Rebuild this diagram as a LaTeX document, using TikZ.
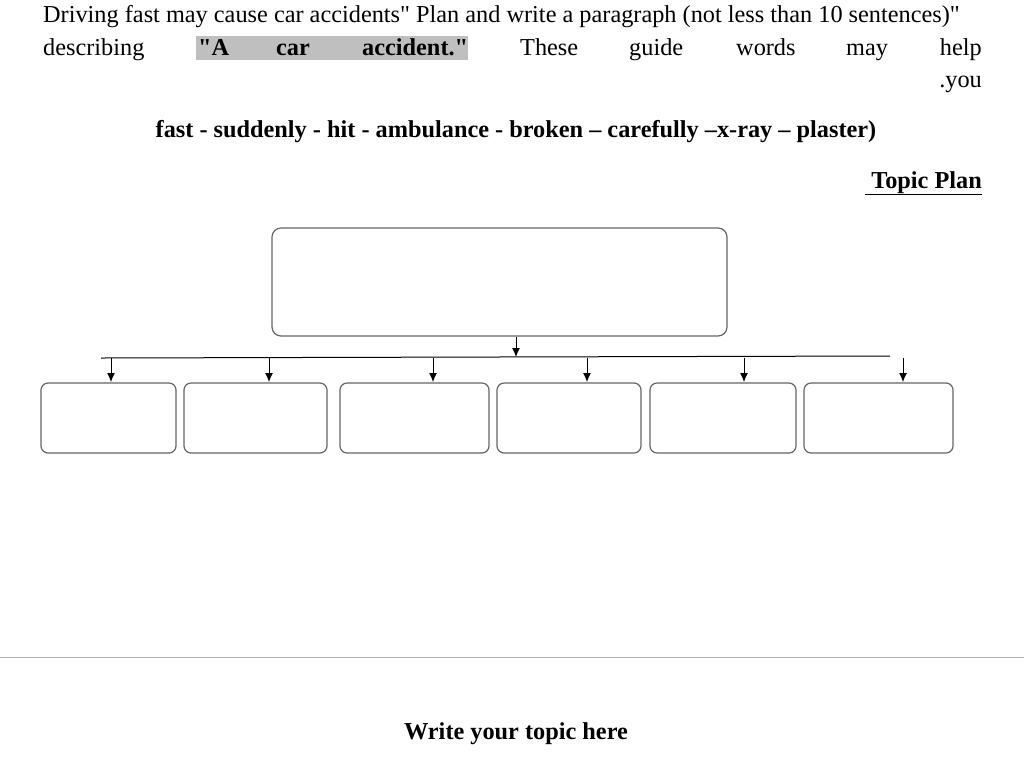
\documentclass[tikz,border=0pt]{standalone}
\usepackage{fontspec}
\usetikzlibrary{arrows.meta}
\defaultfontfeatures[\rmfamily]{}
\setmainfont{Liberation Serif}
\begin{document}
\begin{tikzpicture}[x=1pt,y=-1pt,
  txt/.style={font=\fontsize{24.3}{28}\selectfont,inner sep=0pt,anchor=base west},
  btxt/.style={txt,font=\fontsize{24.3}{28}\selectfont\bfseries},
  bx/.style={draw=black!60,line width=1.2pt,rounded corners=9pt},
  arr/.style={-{Latex[length=9pt,width=8pt]},line width=1pt},
  every node/.style={inner sep=0pt}]
\useasboundingbox (0,0) rectangle (1024,772);
\fill[black!25] (196,36) rectangle (468,60);
\node[txt] (l1) at (43,22) {Driving fast may cause car accidents" Plan and write a paragraph (not less than 10 sentences)"};
\node[txt] (w1) at (43,55) {describing};
\node[btxt] (w2) at (198,55) {"A};
\node[btxt] (w3) at (276,55) {car};
\node[btxt] (w4) at (362,55) {accident."};
\node[txt] (w5) at (520,55) {These};
\node[txt] (w6) at (629,55) {guide};
\node[txt] (w7) at (736,55) {words};
\node[txt] (w8) at (846,55) {may};
\node[txt,anchor=base east] (w9) at (982,55) {help};
\node[txt,anchor=base east] (w10) at (982,87) {.you};
\node[btxt,anchor=base] (gw) at (516,137) {fast - suddenly - hit - ambulance - broken – carefully –x-ray – plaster)};
\node[btxt,anchor=base east] (tp) at (982,188) {\underline{\ Topic Plan}};
\node[bx,minimum width=455pt,minimum height=108pt] (top) at (499.5,282) {};
\foreach \i/\a/\b/\ax in {1/41/176/111,2/184/327/269,3/340/489/433,4/497/641/587,5/650/796/744,6/804/953/903}{
  \node[bx,rounded corners=7pt,minimum width=\b pt-\a pt,minimum height=70pt] (b\i) at ({(\a+\b)/2},418) {};
  \coordinate (s\i) at (\ax,358);
  \draw[arr] (s\i) -- (\ax,382);
}
\coordinate (bar) at (516,357);
\draw[arr] (top.south -| bar) -- (bar);
\draw[line width=1pt] (101,358) -- (890,356);
\draw[black!30,line width=0.8pt] (0,657) -- (1024,657);
\node[btxt,anchor=base] (wt) at (516,739) {Write your topic here};
\end{tikzpicture}
\end{document}
